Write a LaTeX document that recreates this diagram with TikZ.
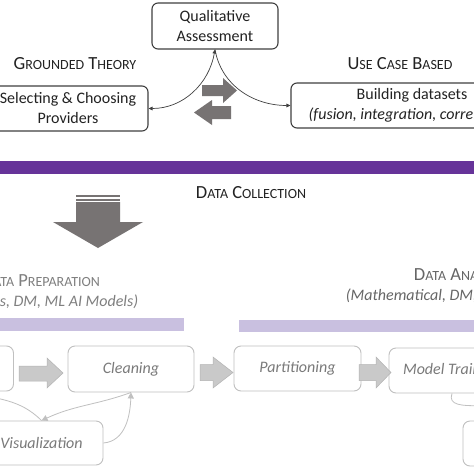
\documentclass[tikz,border=0pt]{standalone}
\usepackage{fontspec}
\setmainfont{Carlito}
\usetikzlibrary{arrows.meta}
\definecolor{purp}{HTML}{663399}
\definecolor{lpurp}{HTML}{C9C0E0}
\definecolor{dgrey}{HTML}{777373}
\definecolor{boxdark}{HTML}{404040}
\definecolor{textdark}{HTML}{222222}
\definecolor{lowline}{HTML}{C0C0C0}
\definecolor{lowtext}{HTML}{7A7A7A}
\definecolor{lowfill}{HTML}{C9C9C9}
\definecolor{lowedge}{HTML}{B3B3B3}
\definecolor{preptext}{HTML}{7F7F7F}
\definecolor{anatext}{HTML}{666666}
\newcommand{\fsc}[1]{{\fontsize{14}{16}\selectfont #1}}
\newcommand{\bigsc}{\fontsize{18.5}{20}\selectfont}
\begin{document}
\begin{tikzpicture}[x=1pt,y=-1pt,
  topbox/.style={draw=boxdark, line width=1.1pt, rounded corners=6pt, align=center,
    font=\fontsize{16}{20}\selectfont, text=textdark, inner sep=0pt},
  lowbox/.style={draw=lowline, line width=0.9pt, rounded corners=7pt, align=center,
    font=\fontsize{16}{20}\selectfont\itshape, text=lowtext, inner sep=0pt},
  titletext/.style={font=\bigsc, text=textdark, inner sep=0pt},
  headtext/.style={font=\fontsize{16}{20}\selectfont, align=center, inner sep=0pt},
  topcurve/.style={draw=boxdark, line width=0.7pt},
  lowcurve/.style={draw=lowline, line width=0.8pt},
  toptip/.tip={Triangle[length=4pt,width=3.6pt]},
  lowtip/.tip={Triangle[length=6pt,width=6pt]},
  lowarrow/.style={fill=lowfill, draw=lowedge, line width=0.5pt}]
\path[use as bounding box] (0,0) rectangle (474,474);
\clip (0,0) rectangle (474,474);
\fill[white] (0,0) rectangle (474,474);

% top section
\node[topbox, minimum width=126pt, minimum height=46pt] (qa) at (215,26) {Qualitative\\Assessment};
\node[topbox, minimum width=160pt, minimum height=45pt] (sel) at (68,108.5) {Selecting \& Choosing\\Providers};
\node[topbox, minimum width=242pt, minimum height=45pt] (bld) at (412,105.5) {Building datasets\\\textit{(fusion, integration, correlation)}};

\draw[topcurve, toptip-toptip] (qa.south) to[out=-100,in=0] (sel.east);
\draw[topcurve, -toptip] (qa.south) to[out=-80,in=180] (bld.west);

\fill[dgrey] (202,85) -- (223,85) -- (223,78) -- (237,90.5) -- (223,103) -- (223,96) -- (202,96) -- cycle;
\fill[dgrey] (231,106) -- (212,106) -- (212,100) -- (194,112.5) -- (212,125) -- (212,119) -- (231,119) -- cycle;

\node[titletext] (gt) at (75,64) {G\fsc{ROUNDED} T\fsc{HEORY}};
\node[titletext] (ucb) at (400,64) {U\fsc{SE} C\fsc{ASE} B\fsc{ASED}};

% divider
\fill[purp] (0,161) rectangle (474,174);
\node[titletext] (dc) at (251,193) {D\fsc{ATA} C\fsc{OLLECTION}};

% big down arrow
\fill[dgrey] (76,194.5) rectangle (120,196.5);
\fill[dgrey] (76,198.5) rectangle (120,200.5);
\fill[dgrey] (76,202) -- (120,202) -- (120,222) -- (143,222) -- (98,248) -- (53,222) -- (76,222) -- cycle;

% phase headings
\node[headtext, text=preptext] (dp) at (41,292) {{\bigsc D\fsc{ATA} P\fsc{REPARATION}}\\\textit{(Statistics, DM, ML AI Models)}};
\node[headtext, text=anatext] (da) at (460,285.5) {{\bigsc D\fsc{ATA} A\fsc{NALYSIS}}\\\textit{(Mathematical, DM, ML AI Models)}};
\fill[lpurp] (-10,318) rectangle (184,331);
\fill[lpurp] (239,320) rectangle (480,332);

% lower boxes
\node[lowbox, minimum width=93pt, minimum height=45pt] (c1) at (-33,368.5) {};
\node[lowbox, minimum width=126pt, minimum height=46pt] (clean) at (131,369) {Cleaning};
\node[lowbox, minimum width=127pt, minimum height=45pt] (part) at (297.5,368.5) {Partitioning};
\node[lowbox, minimum width=126pt, minimum height=45pt] (model) at (452,370.5) {Model Training};
\node[lowbox, minimum width=123pt, minimum height=44pt] (vis) at (41.5,443) {Visualization};
\node[lowbox, minimum width=96pt, minimum height=45pt] (br) at (511,443.5) {};

% light block arrows
\path[lowarrow] (19,366) -- (47,366) -- (47,358) -- (63,373) -- (47,388) -- (47,381) -- (19,381) -- cycle;
\path[lowarrow] (200,364.5) -- (213,364.5) -- (213,357) -- (233,372.5) -- (213,388) -- (213,380.5) -- (200,380.5) -- cycle;
\path[lowarrow] (359,364.5) -- (376,364.5) -- (376,357) -- (391,372.5) -- (376,388) -- (376,380.5) -- (359,380.5) -- cycle;

% lower curves
\draw[lowcurve] (c1.south) to[out=-15,in=135] (vis.north);
\draw[lowcurve, -{lowtip[fill=lowline]}] (clean.south) to[out=-160,in=25] (vis.north);
\draw[lowcurve, -{lowtip[fill=lowline]}] (vis.east) to[out=5,in=-92] (clean.south);
\draw[lowcurve, -{lowtip[fill=lowline]}] (model.south) to[out=-110,in=90] (br.north);
\end{tikzpicture}
\end{document}
